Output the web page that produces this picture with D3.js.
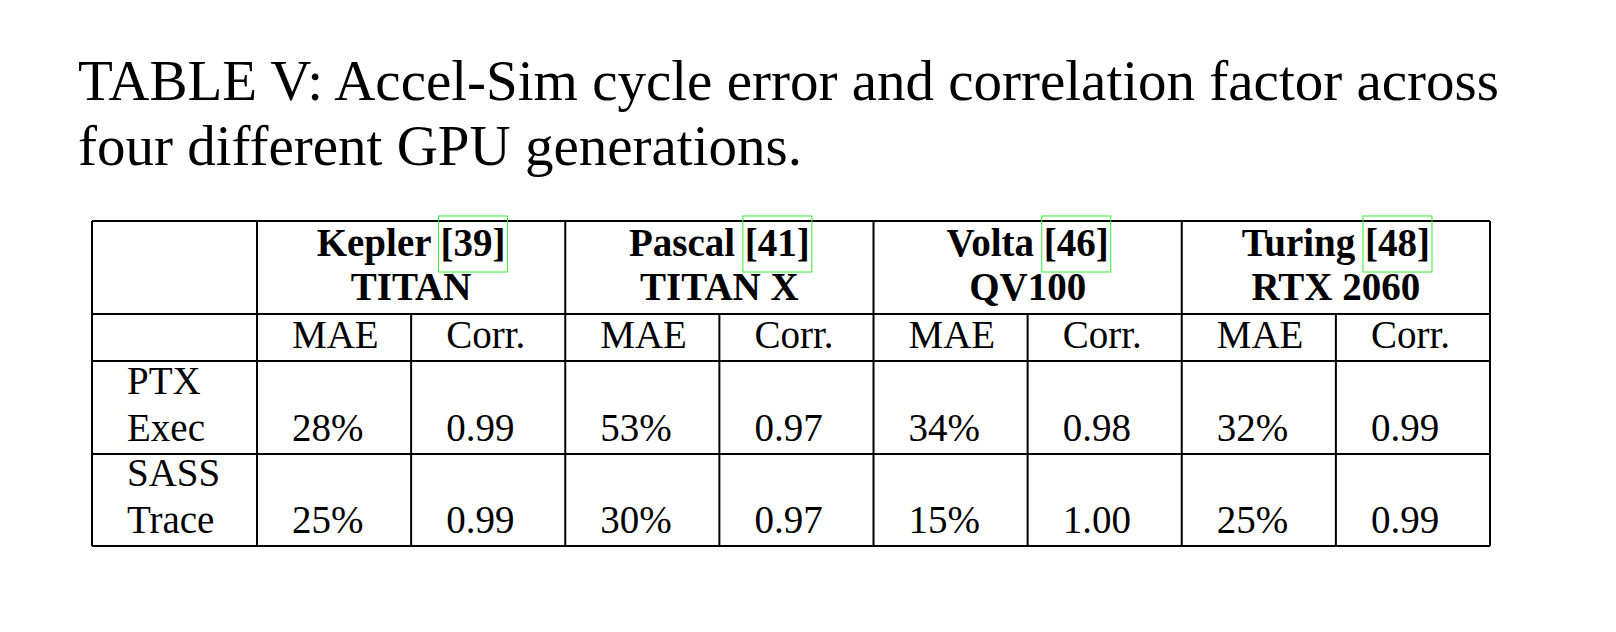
<!DOCTYPE html>
<html><head><meta charset="utf-8">
<script src="https://cdn.jsdelivr.net/npm/d3@7"></script>
<style>body{margin:0;background:#fff}text{font-family:"Liberation Serif","Times New Roman",serif;fill:#000}</style>
</head><body>
<script>
const titleLines = ["TABLE V: Accel-Sim cycle error and correlation factor across","four different GPU generations."];
const archs = ["Kepler","Pascal","Volta","Turing"];
const cites = ["[39]","[41]","[46]","[48]"];
const gpus = ["TITAN","TITAN X","QV100","RTX 2060"];
const metrics = ["MAE","Corr."];
const rowLabels = [["PTX","Exec"],["SASS","Trace"]];
const maeValues = [[28,53,34,32],[25,30,15,25]];
const corrValues = [[0.99,0.97,0.98,0.99],[0.99,0.97,1.00,0.99]];

const W=1616,H=632;
const svg=d3.select("body").append("svg").attr("width",W).attr("height",H);
svg.selectAll("text.title").data(titleLines).join("text").attr("class","title")
  .attr("x",78).attr("y",(d,i)=>100+i*65).attr("font-size",57).text(d=>d);

const left=92,right=1490,firstW=165;
const xGroup=d3.scaleBand().domain(archs).range([left+firstW,right]);
const xSub=d3.scaleBand().domain(metrics).range([0,xGroup.bandwidth()]);
const rowYs=[221,314,361,454,546];
const g=svg.append("g").attr("stroke","#000").attr("stroke-width",2);
rowYs.forEach(y=>g.append("line").attr("x1",left).attr("x2",right).attr("y1",y).attr("y2",y));
const vx=[left,left+firstW];
archs.forEach(a=>{vx.push(xGroup(a)+xSub("Corr."));vx.push(xGroup(a)+xGroup.bandwidth());});
vx.forEach((x,i)=>g.append("line").attr("x1",x).attr("x2",x)
  .attr("y1",(i%2==0&&i>1)?rowYs[1]:rowYs[0]).attr("y2",rowYs[4]));

const fs=39, pad=35;
archs.forEach((a,i)=>{
  const cx=xGroup(a)+xGroup.bandwidth()/2;
  const t=svg.append("text").attr("x",cx).attr("y",256).attr("font-size",fs).attr("font-weight","bold").attr("text-anchor","middle").text(a+" "+cites[i]);
  svg.append("text").attr("x",cx).attr("y",300).attr("font-size",fs).attr("font-weight","bold").attr("text-anchor","middle").text(gpus[i]);
  const node=t.node(), full=node.getComputedTextLength(), pre=node.getSubStringLength(0,a.length+1);
  const cw=node.getSubStringLength(a.length+1,cites[i].length);
  const x0=cx-full/2+pre;
  svg.append("rect").attr("x",x0-2).attr("y",216).attr("width",cw+4).attr("height",56).attr("fill","none").attr("stroke","#33ee33").attr("stroke-width",1);
  metrics.forEach(m=>svg.append("text").attr("x",xGroup(a)+xSub(m)+pad).attr("y",348).attr("font-size",fs).text(m));
});
rowLabels.forEach((lab,r)=>{
  const yb=r==0?441:533;
  svg.append("text").attr("x",127).attr("y",yb-47).attr("font-size",fs).text(lab[0]);
  svg.append("text").attr("x",127).attr("y",yb).attr("font-size",fs).text(lab[1]);
  archs.forEach((a,i)=>{
    svg.append("text").attr("x",xGroup(a)+xSub("MAE")+pad).attr("y",yb).attr("font-size",fs).text(maeValues[r][i]+"%");
    svg.append("text").attr("x",xGroup(a)+xSub("Corr.")+pad).attr("y",yb).attr("font-size",fs).text(corrValues[r][i].toFixed(2));
  });
});
</script></body></html>
